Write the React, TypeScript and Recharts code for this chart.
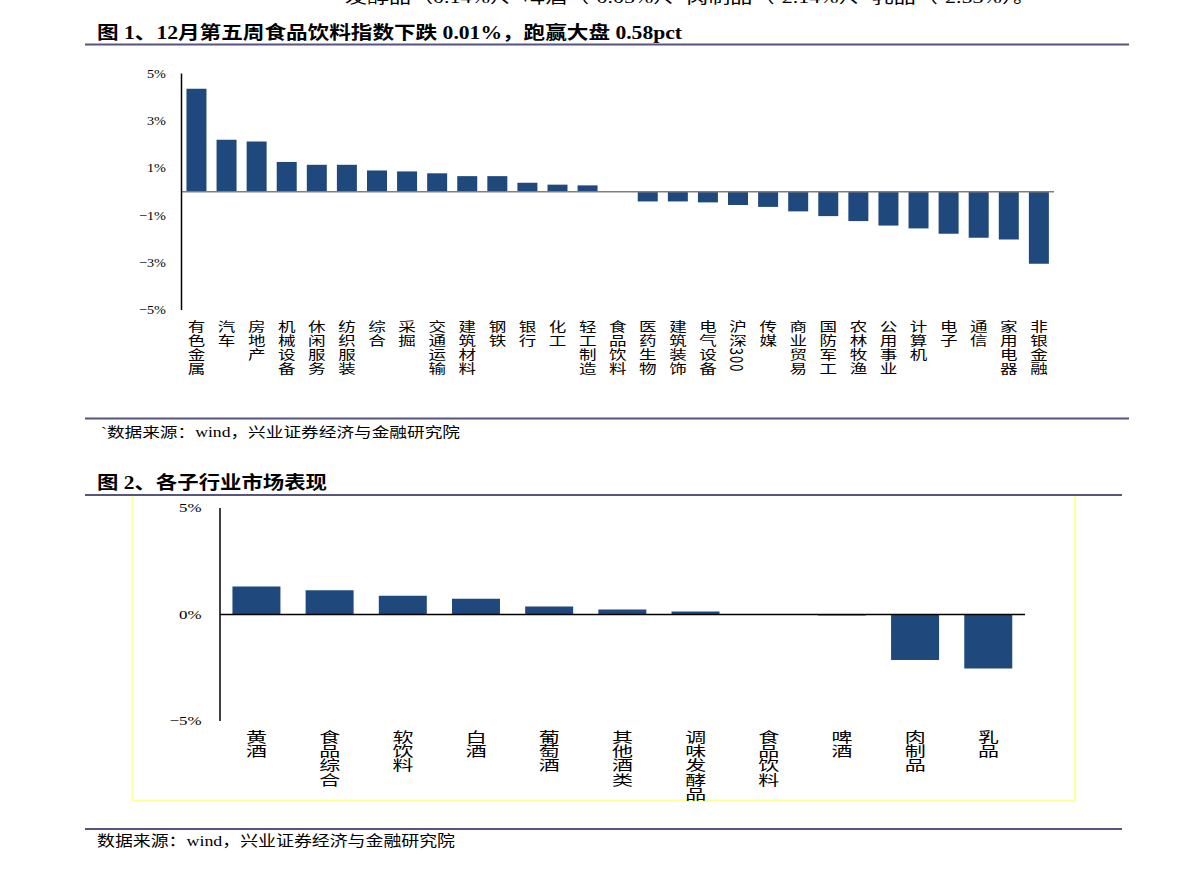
import React from 'react';
import { BarChart, Bar, XAxis, YAxis, ReferenceLine } from 'recharts';

// 图1：申万一级行业周涨跌幅（%）
const industries = [
  '有色金属', '汽车', '房地产', '机械设备', '休闲服务', '纺织服装', '综合', '采掘',
  '交通运输', '建筑材料', '钢铁', '银行', '化工', '轻工制造', '食品饮料', '医药生物',
  '建筑装饰', '电气设备', '沪深300', '传媒', '商业贸易', '国防军工', '农林牧渔',
  '公用事业', '计算机', '电子', '通信', '家用电器', '非银金融',
];
const industryReturns = [
  4.35, 2.2, 2.13, 1.26, 1.14, 1.14, 0.9, 0.86, 0.78, 0.66, 0.66, 0.38, 0.3, 0.27,
  -0.01, -0.41, -0.41, -0.45, -0.56, -0.64, -0.83, -1.03, -1.24, -1.43, -1.55,
  -1.78, -1.95, -2.02, -3.04,
];
const industryTicks = [-5, -3, -1, 1, 3, 5];

// 图2：食品饮料子行业涨跌幅（%）
const subIndustries = [
  '黄酒', '食品综合', '软饮料', '白酒', '葡萄酒', '其他酒类', '调味发酵品',
  '食品饮料', '啤酒', '肉制品', '乳品',
];
const subReturns = [1.31, 1.14, 0.88, 0.74, 0.38, 0.23, 0.14, -0.01, -0.05, -2.14, -2.53];
const subTicks = [-5, 0, 5];

const industryData = industries.map((name, i) => ({ name, value: industryReturns[i] }));
const subData = subIndustries.map((name, i) => ({ name, value: subReturns[i] }));

const BAR = '#1f497d';
const CJK = '"Liberation Serif", "Noto Sans CJK SC", serif';
const LINE = '#55557e';

const pct = (v: number) => (v < 0 ? `\u2212${Math.abs(v)}%` : `${v}%`);

// vertical category label (top-to-bottom writing, digits turn sideways)
const VerticalTick = (props: any) => {
  const { x, payload, top, step, size, stretch } = props;
  return (
    <text
      transform={`translate(${x},${top}) scale(${stretch},1)`}
      style={{ writingMode: 'vertical-rl', textOrientation: 'mixed' } as any}
      letterSpacing={step - size}
      fontSize={size}
      fontFamily='"Noto Sans CJK SC", sans-serif'
      fill="#000"
    >
      {payload.value}
    </text>
  );
};

const ValueTick = (props: any) => {
  const { y, payload, right, size, stretch } = props;
  return (
    <text
      transform={`translate(${right},${y}) scale(${stretch},1)`}
      textAnchor="end"
      dominantBaseline="central"
      fontSize={size}
      fontFamily='"Liberation Serif", serif'
      fill="#000"
    >
      {pct(payload.value)}
    </text>
  );
};

export default function App() {
  return (
    <div style={{ position: 'absolute', left: 0, top: 0, width: 1191, height: 870, background: '#fff', overflow: 'hidden' }}>
      <svg width={1191} height={870} style={{ position: 'absolute', left: 0, top: 0 }}>
        <text x={345} y={3} fontSize={17} fontFamily={CJK} textLength={690} lengthAdjust="spacingAndGlyphs">
          发酵品（0.14%）、啤酒（-0.05%）、肉制品（-2.14%）、乳品（-2.53%）。
        </text>
        <text x={97} y={39} fontSize={18} fontWeight={700} fontFamily={CJK} textLength={585} lengthAdjust="spacingAndGlyphs">
          图 1、12月第五周食品饮料指数下跌 0.01%，跑赢大盘 0.58pct
        </text>
        <line x1={85} x2={1129} y1={44.5} y2={44.5} stroke={LINE} strokeWidth={2} />
        <line x1={85} x2={1129} y1={418.5} y2={418.5} stroke={LINE} strokeWidth={2} />
        <text x={101} y={437} fontSize={14} fontFamily={CJK} textLength={359} lengthAdjust="spacingAndGlyphs">
          `数据来源：wind，兴业证券经济与金融研究院
        </text>
        <text x={97} y={489} fontSize={18} fontWeight={700} fontFamily={CJK} textLength={230} lengthAdjust="spacingAndGlyphs">
          图 2、各子行业市场表现
        </text>
        <rect x={132.5} y={495} width={942.5} height={305.5} fill="none" stroke="#ffff9a" strokeWidth={2} />
        <line x1={85} x2={1122} y1={495} y2={495} stroke={LINE} strokeWidth={2} />
        <line x1={85} x2={1122} y1={829} y2={829} stroke={LINE} strokeWidth={2} />
        <text x={97} y={846} fontSize={15} fontFamily={CJK} textLength={358} lengthAdjust="spacingAndGlyphs">
          数据来源：wind，兴业证券经济与金融研究院
        </text>
      </svg>

      <div style={{ position: 'absolute', left: 0, top: 0 }}>
        <BarChart
          width={1191}
          height={400}
          data={industryData}
          margin={{ top: 73.5, right: 137, bottom: 10, left: 121.5 }}
          barCategoryGap="16.5%"
        >
          <XAxis
            dataKey="name"
            interval={0}
            axisLine={false}
            tickLine={false}
            height={80}
            tick={(p: any) => <VerticalTick {...p} top={319.5} step={14.1} size={13} stretch={1.35} />}
          />
          <YAxis
            type="number"
            domain={[-5, 5]}
            ticks={industryTicks}
            width={60}
            axisLine={{ stroke: '#000', strokeWidth: 1.5 }}
            tickLine={false}
            tick={(p: any) => <ValueTick {...p} right={166} size={13} stretch={1.1} />}
          />
          <Bar dataKey="value" fill={BAR} isAnimationActive={false} />
          <ReferenceLine y={0} stroke="#7f7f7f" strokeWidth={1.5} />
        </BarChart>
      </div>

      <div style={{ position: 'absolute', left: 0, top: 495 }}>
        <BarChart
          width={1191}
          height={310}
          data={subData}
          margin={{ top: 13, right: 166, bottom: 10, left: 160 }}
          barCategoryGap="17%"
        >
          <XAxis
            dataKey="name"
            interval={0}
            axisLine={false}
            tickLine={false}
            height={74}
            tick={(p: any) => <VerticalTick {...p} top={234.5} step={14.3} size={14} stretch={1.5} />}
          />
          <YAxis
            type="number"
            domain={[-5, 5]}
            ticks={subTicks}
            width={60}
            axisLine={{ stroke: '#000', strokeWidth: 1.5 }}
            tickLine={false}
            tick={(p: any) => <ValueTick {...p} right={201.5} size={13} stretch={1.3} />}
          />
          <Bar dataKey="value" fill={BAR} isAnimationActive={false} />
          <ReferenceLine y={0} stroke="#000" strokeWidth={1.5} />
        </BarChart>
      </div>
    </div>
  );
}
